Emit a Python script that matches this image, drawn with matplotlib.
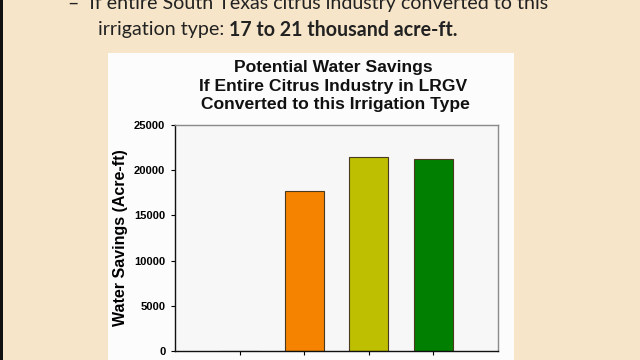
import matplotlib
matplotlib.use("Agg")
import matplotlib.pyplot as plt
from matplotlib.patches import Rectangle

# Data
categories = ["Type 1", "Type 2", "Type 3", "Type 4"]
savings = [0, 17750, 21500, 21200]
bar_colors = ["#f5a000", "#f58300", "#bdbf00", "#007f00"]
yticks = [0, 5000, 10000, 15000, 20000, 25000]

W, H = 640, 360
fig = plt.figure(figsize=(W / 100, H / 100), dpi=100)
fig.patch.set_facecolor("#f6e5c8")

def px(x0, y0, x1, y1):
    # pixel box (top-left origin) -> figure fraction rect
    return [x0 / W, 1 - y1 / H, (x1 - x0) / W, (y1 - y0) / H]

# left dark stripe
fig.patches.append(Rectangle((0, 0), 3 / W, 1, transform=fig.transFigure,
                             facecolor="#111111", edgecolor="none", zorder=-2))
# white chart panel
fig.patches.append(Rectangle((108 / W, 0), (514 - 108) / W, (360 - 53) / H,
                             transform=fig.transFigure, facecolor="#fcfcfc",
                             edgecolor="none", zorder=-2))

# slide text
fig.text(68 / W, 1 - 4 / H, "–  If entire South Texas citrus industry converted to this",
         fontsize=14.1, family="Lato", color="#222222", va="center", ha="left")
t1 = fig.text(98 / W, 1 - 29.5 / H, "irrigation type: ", fontsize=14.1, family="Lato",
              color="#222222", va="center", ha="left")
fig.canvas.draw()
bb = t1.get_window_extent()
fig.text(bb.x1 / W, 1 - 29.5 / H, "17 to 21 thousand acre-ft.", fontsize=14.1,
         family="Lato", fontweight="bold", color="#222222", va="center", ha="left")

# chart title
fig.text(333 / W, 1 - 86 / H,
         "Potential Water Savings\nIf Entire Citrus Industry in LRGV\n Converted to this Irrigation Type",
         fontsize=12.6, family="Liberation Sans", fontweight="bold", color="#111111",
         ha="center", va="center", linespacing=1.3)

ax = fig.add_axes(px(175, 125, 498, 351))
ax.set_facecolor("#f7f7f7")
xs = list(range(1, len(categories) + 1))
ax.bar(xs, savings, width=0.6, color=bar_colors, edgecolor="#4a3a20", linewidth=0.8)
ax.set_xlim(0, len(categories) + 1)
ax.set_ylim(0, 25000)
ax.set_yticks(yticks)
ax.set_yticklabels([str(v) for v in yticks], fontsize=8, fontweight="bold",
                   family="Liberation Sans")
ax.set_xticks(xs)
ax.tick_params(axis="x", labelbottom=False, direction="out", length=3, width=0.8)
ax.tick_params(axis="y", direction="out", length=3, width=0.8, pad=4)
for s in ["top", "right"]:
    ax.spines[s].set_color("#8a8a8a")
    ax.spines[s].set_linewidth(1.0)
for s in ["left", "bottom"]:
    ax.spines[s].set_color("#111111")
    ax.spines[s].set_linewidth(1.0)
ax.set_ylabel("Water Savings (Acre-ft)", fontsize=11.5, fontweight="bold",
              family="Liberation Sans")
ax.yaxis.set_label_coords(-0.145, 0.5)

fig.savefig("out.png", dpi=100, facecolor=fig.get_facecolor())
